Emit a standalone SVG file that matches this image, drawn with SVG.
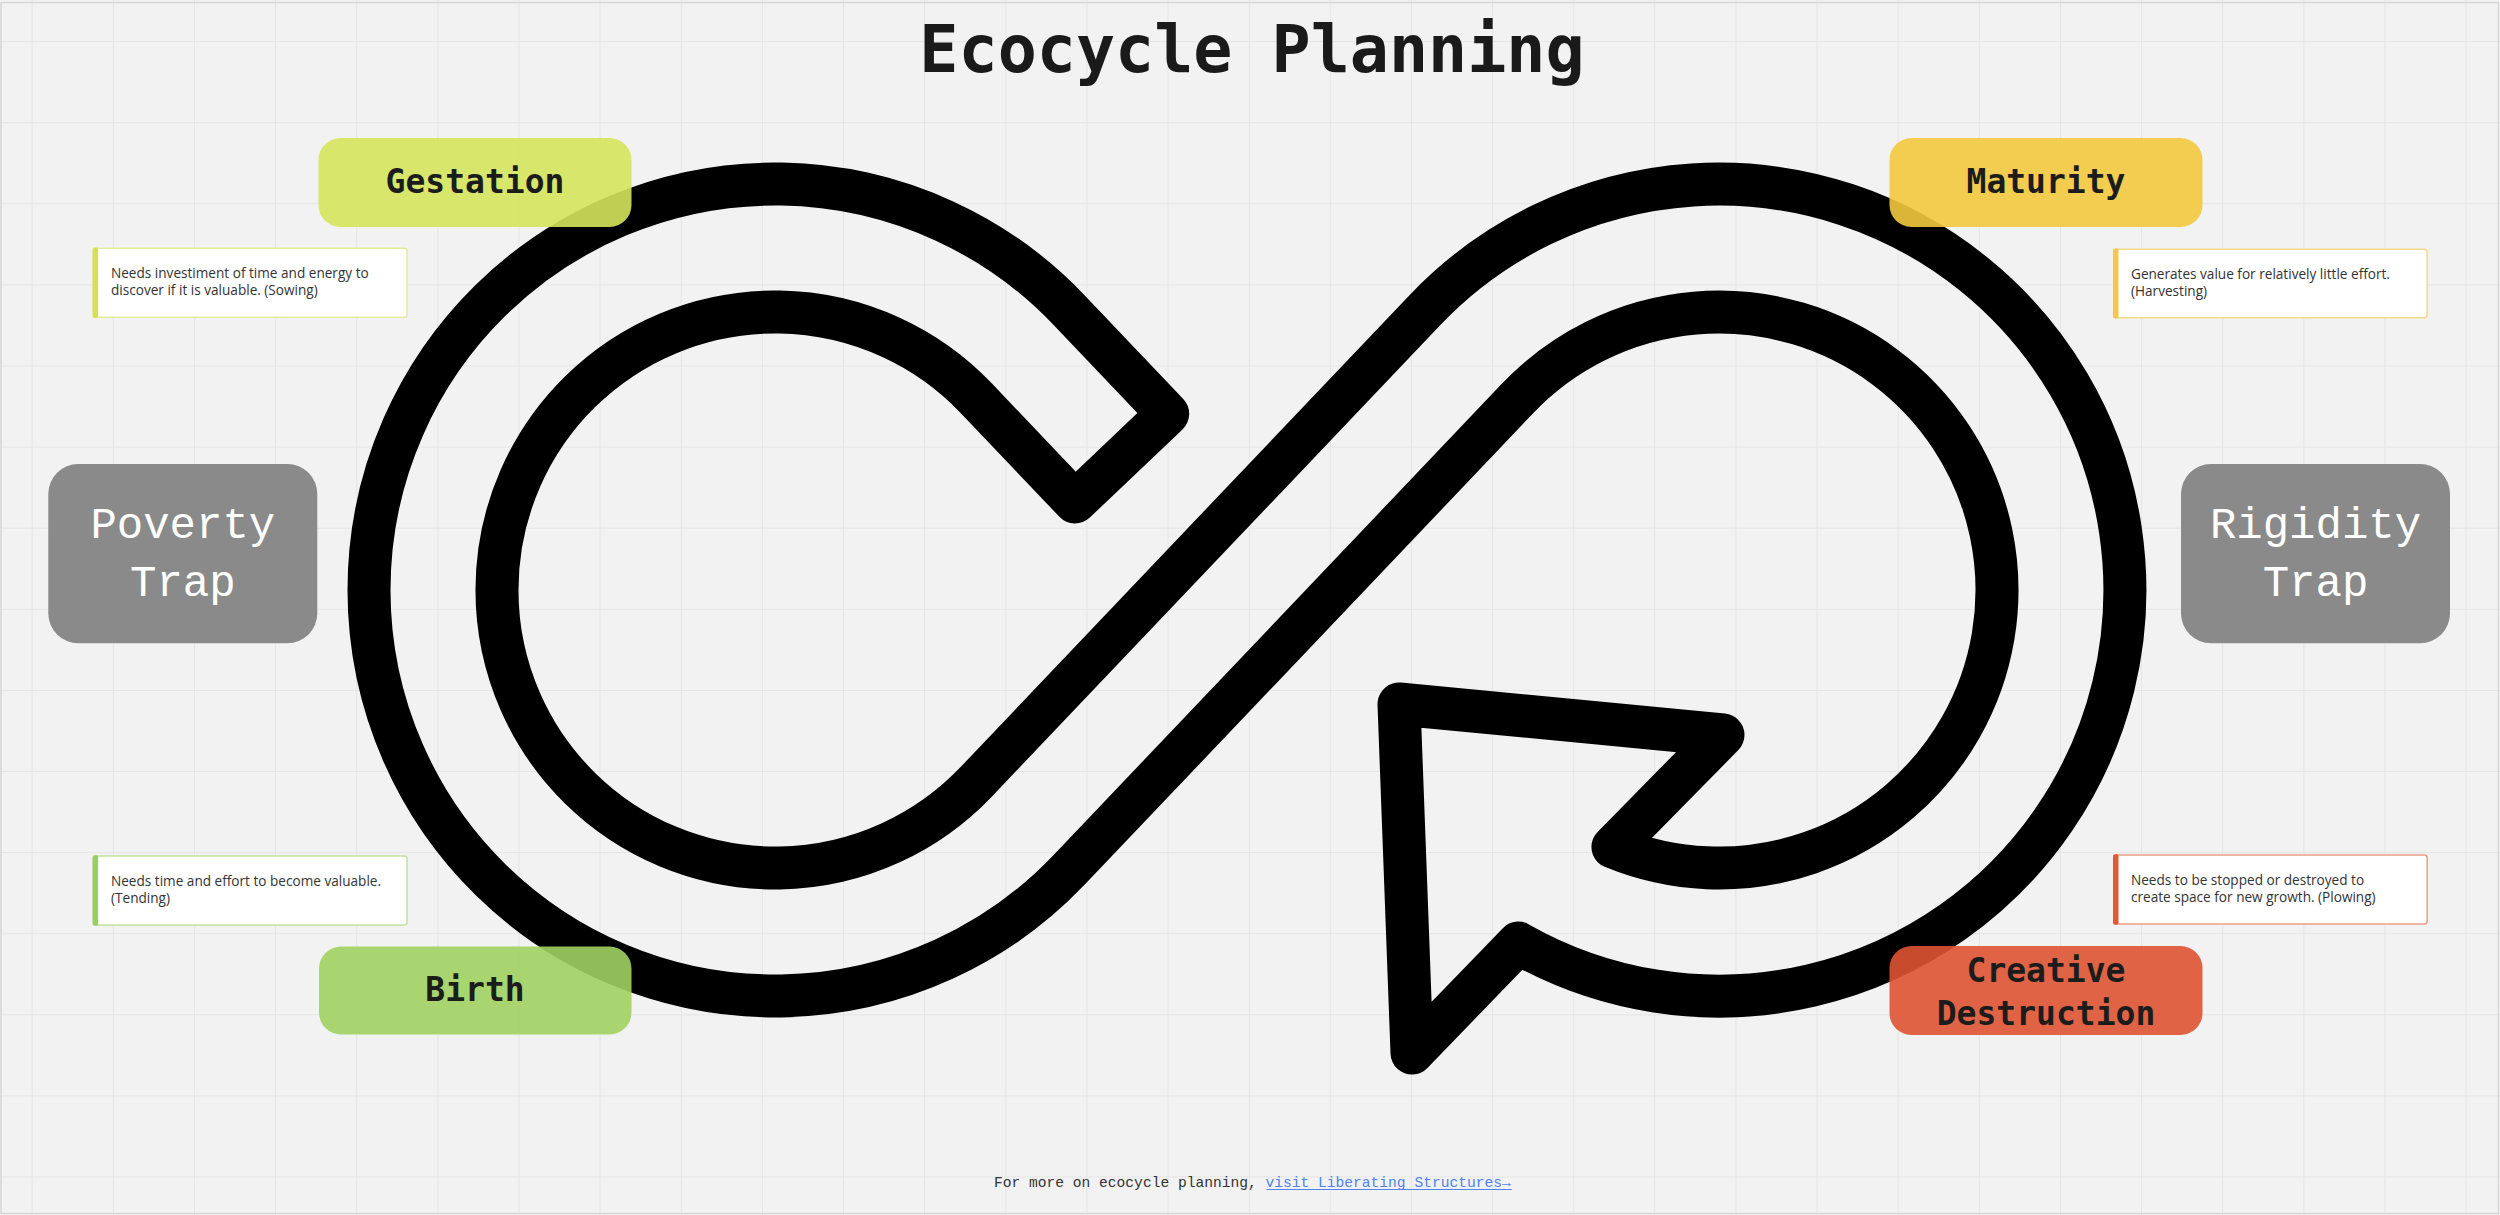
<svg xmlns="http://www.w3.org/2000/svg" width="2500" height="1215" viewBox="0 0 2500 1215">
  <defs>
    <style>
      .grid { stroke: #e5e5e5; stroke-width: 1; fill: none; }
      .loop { fill: none; stroke: #000; stroke-width: 43; stroke-linejoin: round; stroke-linecap: round; }
      .phase { fill-opacity: 0.9; }
      .phase-label { font-family: "DejaVu Sans Mono", "Liberation Mono", monospace; font-weight: bold; font-size: 33px; fill: #1c1c1c; text-anchor: middle; }
      .trap { fill: #8a8a8a; }
      .trap-label { font-family: "Liberation Mono", "DejaVu Sans Mono", monospace; font-size: 44px; fill: #ffffff; text-anchor: middle; }
      .card { fill: #ffffff; stroke-width: 1.5; }
      .card-text { font-family: "Open Sans", "Noto Sans", sans-serif; font-size: 13.6px; fill: #333333; }
      .title { font-family: "DejaVu Sans Mono", "Liberation Mono", monospace; font-weight: bold; font-size: 65px; fill: #1a1a1a; text-anchor: middle; }
      .footer { font-family: "Liberation Mono", "DejaVu Sans Mono", monospace; font-size: 14.6px; fill: #333333; }
      .link { fill: #4f82f0; }
    </style>
  </defs>

  <rect x="0" y="0" width="2500" height="1215" fill="#f2f2f2"/>
  <path class="grid" d="M32.2 0V1215M113.3 0V1215M194.5 0V1215M275.6 0V1215M356.7 0V1215M437.9 0V1215M519 0V1215M600.1 0V1215M681.2 0V1215M762.4 0V1215M843.5 0V1215M924.6 0V1215M1005.8 0V1215M1086.9 0V1215M1168 0V1215M1249.2 0V1215M1330.3 0V1215M1411.4 0V1215M1492.5 0V1215M1573.7 0V1215M1654.8 0V1215M1735.9 0V1215M1817.1 0V1215M1898.2 0V1215M1979.3 0V1215M2060.5 0V1215M2141.6 0V1215M2222.7 0V1215M2303.8 0V1215M2385 0V1215M2466.1 0V1215M0 41.6H2500M0 122.7H2500M0 203.8H2500M0 284.9H2500M0 366H2500M0 447.1H2500M0 528.2H2500M0 609.3H2500M0 690.4H2500M0 771.5H2500M0 852.6H2500M0 933.7H2500M0 1014.8H2500M0 1095.9H2500M0 1177H2500"/>
  <rect x="1" y="2.5" width="2497.5" height="1211" fill="none" stroke="#d6d6d6" stroke-width="1.5"/>

  <text class="title" x="1252" y="72">Ecocycle Planning</text>

  <g id="connectors">
    <path id="ecocycle-loop" class="loop" d="M1167.7 413.8 L1069.2 310.2 A406 406 0 1 0 1069.2 869.8 L1517.6 398.4 A278 278 0 1 1 1612.9 847 L1723 735 L1399 704 L1412 1053 L1518.3 943.1 A406 406 0 1 0 1424.8 310.2 L976.4 781.6 A278 278 0 1 1 976.4 398.4 L1075 502 Z"/>
  </g>

  <g id="gestation">
    <rect class="phase" x="318.5" y="138" width="313" height="89" rx="22" fill="#d5e55c"/>
    <text class="phase-label" x="475" y="193">Gestation</text>
  </g>
  <g id="maturity">
    <rect class="phase" x="1889.5" y="138" width="313" height="89" rx="22" fill="#f2c93d"/>
    <text class="phase-label" x="2046" y="193">Maturity</text>
  </g>
  <g id="birth">
    <rect class="phase" x="319" y="946.5" width="312.5" height="88" rx="22" fill="#a0d160"/>
    <text class="phase-label" x="475" y="1000.5">Birth</text>
  </g>
  <g id="creative-destruction">
    <rect class="phase" x="1889.5" y="946" width="313" height="89" rx="22" fill="#de5333"/>
    <text class="phase-label" x="2046" y="981.7">Creative</text>
    <text class="phase-label" x="2046" y="1025">Destruction</text>
  </g>

  <g id="poverty-trap">
    <rect class="trap" x="48.3" y="464" width="269" height="179.3" rx="30"/>
    <text class="trap-label" x="182.8" y="538.3">Poverty</text>
    <text class="trap-label" x="182.8" y="595.7">Trap</text>
  </g>
  <g id="rigidity-trap">
    <rect class="trap" x="2181" y="464" width="269" height="179.3" rx="30"/>
    <text class="trap-label" x="2315.5" y="538.3">Rigidity</text>
    <text class="trap-label" x="2315.5" y="595.7">Trap</text>
  </g>

  <g id="gestation-note">
    <rect class="card" x="93.3" y="248.3" width="313.8" height="69" rx="3" stroke="#e3ec96"/>
    <rect x="92.6" y="247.6" width="5.5" height="70.4" rx="2" fill="#d4e157"/>
    <text class="card-text" x="111" y="277.7">Needs investiment of time and energy to</text>
    <text class="card-text" x="111" y="295">discover if it is valuable. (Sowing)</text>
  </g>
  <g id="maturity-note">
    <rect class="card" x="2113.7" y="249.3" width="313.5" height="68.4" rx="3" stroke="#f3da88"/>
    <rect x="2113" y="248.6" width="5.5" height="69.8" rx="2" fill="#f2c94c"/>
    <text class="card-text" x="2131" y="279">Generates value for relatively little effort.</text>
    <text class="card-text" x="2131" y="295.7">(Harvesting)</text>
  </g>
  <g id="birth-note">
    <rect class="card" x="93.3" y="856" width="313.8" height="69" rx="3" stroke="#c3e19d"/>
    <rect x="92.6" y="855.3" width="5.5" height="70.4" rx="2" fill="#9ccc65"/>
    <text class="card-text" x="111" y="886">Needs time and effort to become valuable.</text>
    <text class="card-text" x="111" y="903.3">(Tending)</text>
  </g>
  <g id="creative-destruction-note">
    <rect class="card" x="2113.7" y="855" width="313.5" height="69" rx="3" stroke="#eb9d88"/>
    <rect x="2113" y="854.3" width="5.5" height="70.4" rx="2" fill="#e05a3a"/>
    <text class="card-text" x="2131" y="885">Needs to be stopped or destroyed to</text>
    <text class="card-text" x="2131" y="901.7">create space for new growth. (Plowing)</text>
  </g>

  <g id="footer">
    <text class="footer" x="994" y="1186.7">For more on ecocycle planning, <tspan class="link">visit Liberating Structures→</tspan></text>
    <line x1="1266.5" y1="1189.5" x2="1511.8" y2="1189.5" stroke="#4f82f0" stroke-width="1"/>
  </g>
</svg>
